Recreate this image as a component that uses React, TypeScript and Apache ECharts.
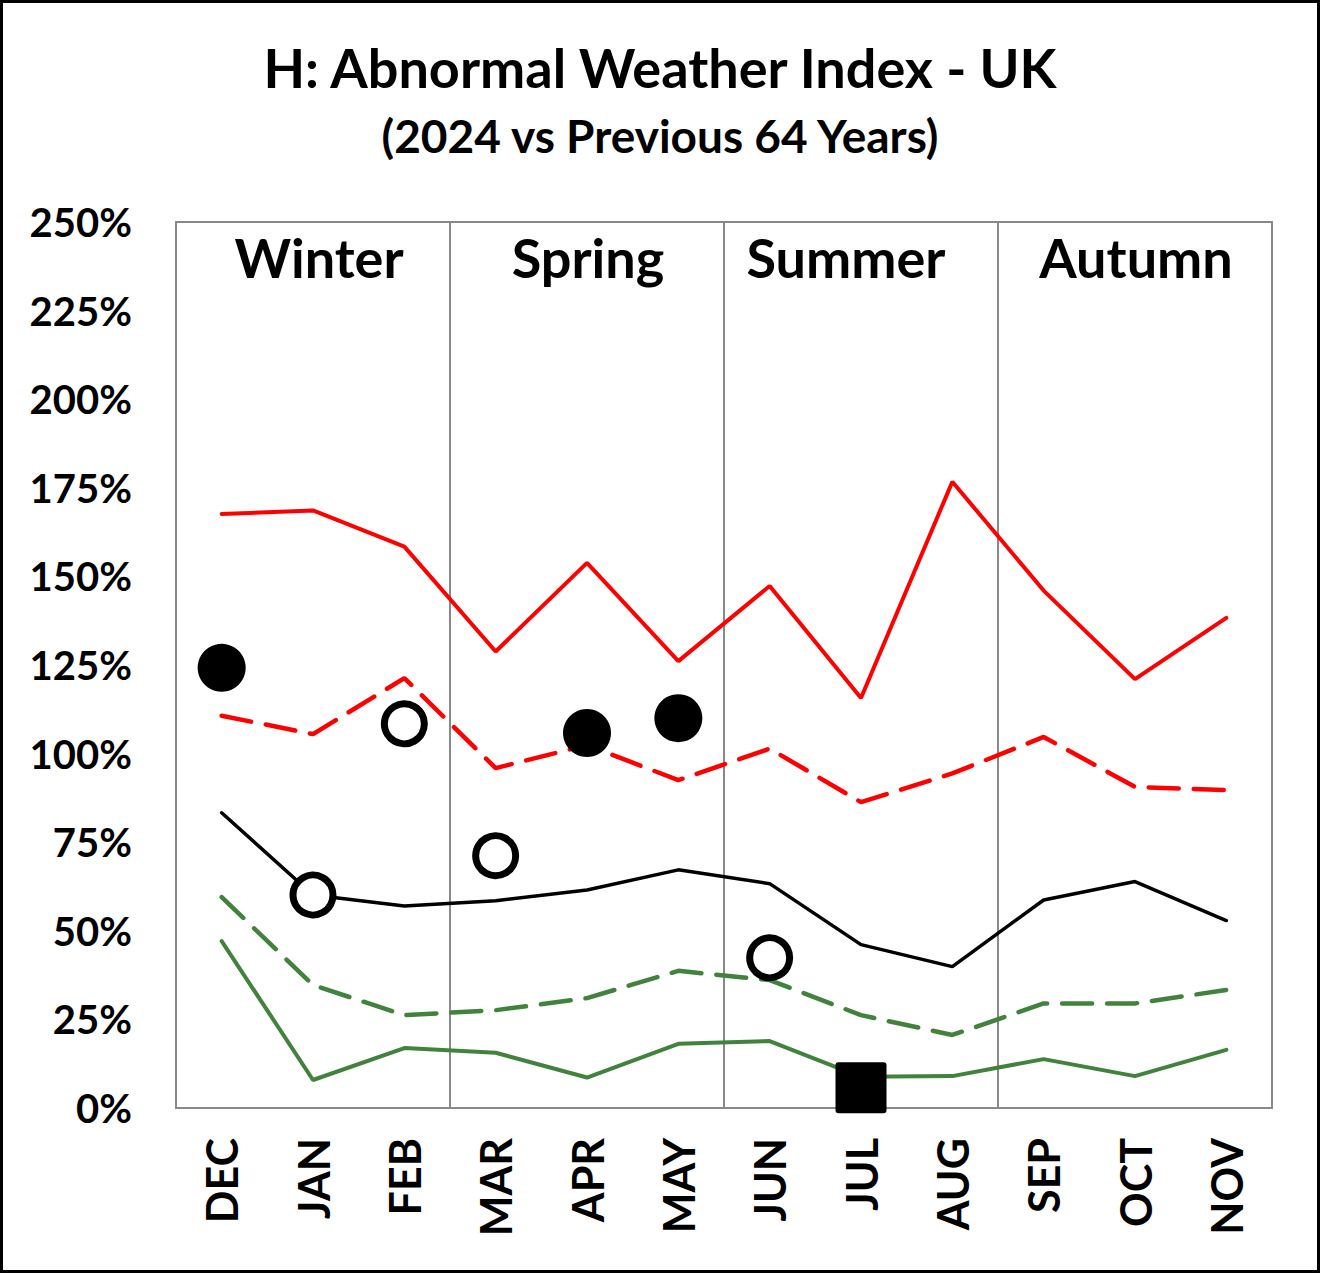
import React, { useEffect, useRef } from "react";
import * as echarts from "echarts";

const months = ["DEC", "JAN", "FEB", "MAR", "APR", "MAY", "JUN", "JUL", "AUG", "SEP", "OCT", "NOV"];
const yTicks = [0, 25, 50, 75, 100, 125, 150, 175, 200, 225, 250];
const seasons = ["Winter", "Spring", "Summer", "Autumn"];

const redSolid = [167.6, 168.6, 158.4, 128.8, 153.8, 126.1, 147.3, 115.7, 176.7, 146, 121, 138.3];
const redDashed = [110.7, 105.5, 121.3, 95.9, 102.4, 92.5, 101.4, 86.3, 94.4, 104.7, 90.6, 89.7];
const blackSolid = [83.3, 60.1, 57, 58.5, 61.5, 67.2, 63.3, 46.1, 39.9, 58.7, 63.9, 52.9];
const greenDashed = [59.5, 34.7, 26.2, 27.6, 31, 38.7, 36.1, 26.2, 20.6, 29.5, 29.5, 33.3];
const greenSolid = [47.1, 7.9, 16.9, 15.6, 8.6, 18.1, 18.9, 8.8, 9, 13.8, 9, 16.4];

const filledCircles = [124.2, null, null, null, 105.8, 110, null, null, null, null, null, null];
const openCircles = [null, 60.1, 108.4, 71.2, null, null, 42.4, null, null, null, null, null];
const squares = [null, null, null, null, null, null, null, 5.7, null, null, null, null];

const FONT = "Lato";
const RED = "#FF0000";
const GREEN = "#41823C";
const GRAY = "#898989";
const SQUARE_PATH =
  "path://M3,0 H47 A3,3 0 0 1 50,3 V47 A3,3 0 0 1 47,50 H3 A3,3 0 0 1 0,47 V3 A3,3 0 0 1 3,0 Z";

export default function App() {
  const ref = useRef<HTMLDivElement>(null);

  useEffect(() => {
    document.body.style.margin = "0";
    if (!ref.current) return;
    const chart = echarts.init(ref.current, null, { renderer: "svg" });

    const seasonX = [319, 588, 846, 1136];

    const lineSeries = (name: string, data: number[], color: string, dashed: boolean, width: number) => ({
      name,
      type: "line",
      data,
      symbol: "none",
      z: 2,
      lineStyle: { color, width, type: dashed ? [30, 15] : "solid", cap: "round" },
    });

    chart.setOption({
      animation: false,
      backgroundColor: "#ffffff",
      textStyle: { fontFamily: FONT },
      grid: {
        left: 176,
        top: 222,
        width: 1096,
        height: 886,
        show: true,
        borderColor: GRAY,
        borderWidth: 2,
        containLabel: false,
      },
      xAxis: [
        {
          type: "category",
          data: months,
          boundaryGap: true,
          axisLine: { show: true, lineStyle: { color: GRAY, width: 2 } },
          axisTick: { show: false },
          splitLine: { show: false },
          axisLabel: {
            rotate: 90,
            margin: 30,
            color: "#000",
            fontFamily: FONT,
            fontWeight: "bold",
            fontSize: 43,
            interval: 0,
          },
        },
        {
          type: "value",
          min: 0,
          max: 12,
          interval: 3,
          position: "bottom",
          axisLine: { show: false },
          axisTick: { show: false },
          axisLabel: { show: false },
          splitLine: { show: true, lineStyle: { color: GRAY, width: 2 } },
        },
      ],
      yAxis: {
        type: "value",
        min: 0,
        max: 250,
        interval: 25,
        axisLine: { show: true, lineStyle: { color: GRAY, width: 2 } },
        axisTick: { show: false },
        splitLine: { show: false },
        axisLabel: {
          margin: 44,
          color: "#000",
          fontFamily: FONT,
          fontWeight: "bold",
          fontSize: 40,
          formatter: (v: number) => (yTicks.includes(v) ? `${v}%` : ""),
        },
      },
      title: [
        {
          text: "H: Abnormal Weather Index - UK",
          left: "center",
          top: 35,
          textStyle: { fontFamily: FONT, fontWeight: "bold", fontSize: 54, color: "#000" },
        },
        {
          text: "(2024 vs Previous 64 Years)",
          left: "center",
          top: 107,
          textStyle: { fontFamily: FONT, fontWeight: "bold", fontSize: 46, color: "#000" },
        },
      ],
      graphic: [
        {
          type: "rect",
          shape: { x: 1.5, y: 1.5, width: 1317, height: 1270 },
          style: { fill: "none", stroke: "#000", lineWidth: 3 },
          z: 100,
        },
        ...seasons.map((s, i) => ({
          type: "text",
          x: seasonX[i],
          y: 257,
          style: {
            text: s,
            fontFamily: FONT,
            fontWeight: "bold",
            fontSize: 54,
            fill: "#000",
            textAlign: "center",
            textVerticalAlign: "middle",
          },
          z: 50,
        })),
      ],
      series: [
        lineSeries("Red upper", redSolid, RED, false, 4),
        lineSeries("Red dashed", redDashed, RED, true, 4.5),
        lineSeries("Median", blackSolid, "#000", false, 3.5),
        lineSeries("Green dashed", greenDashed, GREEN, true, 4.5),
        lineSeries("Green lower", greenSolid, GREEN, false, 4),
        {
          name: "Filled",
          type: "scatter",
          data: filledCircles,
          symbol: "circle",
          symbolSize: 48,
          z: 5,
          itemStyle: { color: "#000", opacity: 1 },
        },
        {
          name: "Open",
          type: "scatter",
          data: openCircles,
          symbol: "circle",
          symbolSize: 40,
          z: 5,
          itemStyle: { color: "#fff", borderColor: "#000", borderWidth: 7, opacity: 1 },
        },
        {
          name: "Square",
          type: "scatter",
          data: squares,
          symbol: SQUARE_PATH,
          symbolSize: 51,
          z: 5,
          itemStyle: { color: "#000", opacity: 1 },
        },
      ],
    });

    return () => chart.dispose();
  }, []);

  return <div ref={ref} style={{ width: 1320, height: 1273 }} />;
}
